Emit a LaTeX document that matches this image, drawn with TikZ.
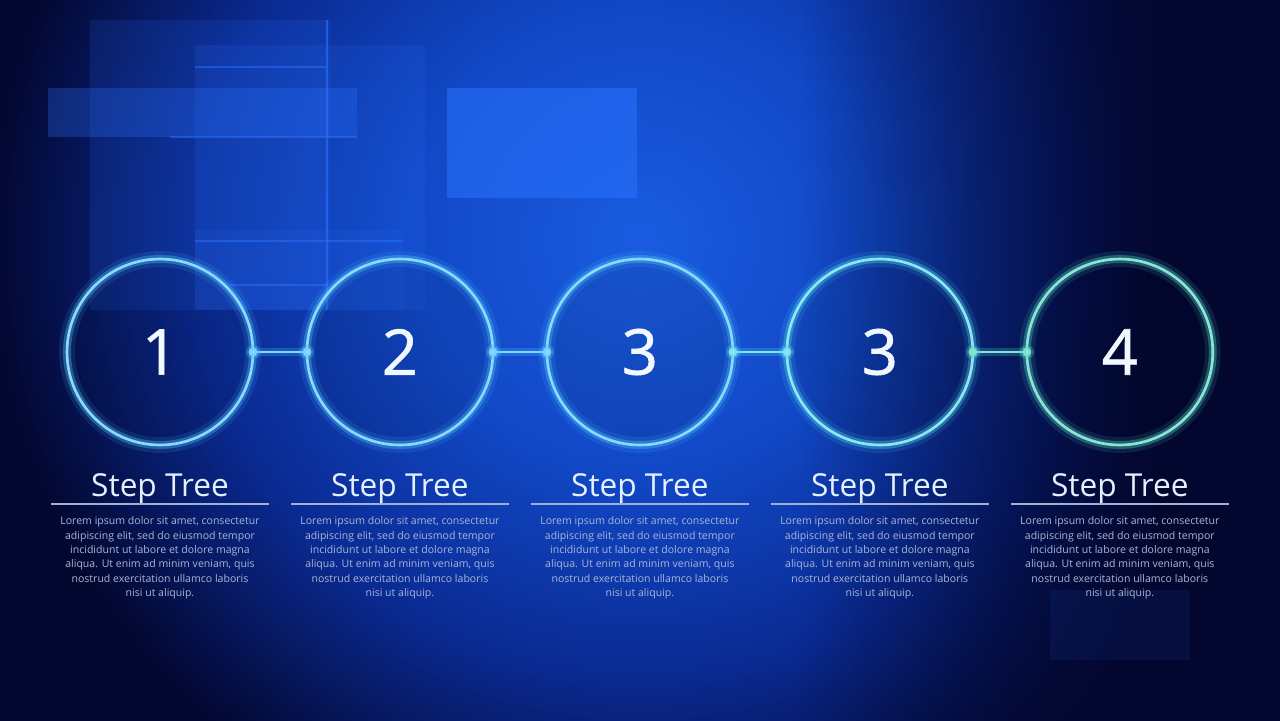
\documentclass[tikz,border=0pt]{standalone}
\usepackage{fontspec}
\setmainfont{Open Sans}
\newfontfamily\numfont[FakeBold=1]{Open Sans}
\usetikzlibrary{positioning,fadings}

\definecolor{bgnavy}{HTML}{030730}
\definecolor{glowA}{HTML}{1A5CE0}
\definecolor{glowB}{HTML}{1148C6}
\definecolor{glowC}{HTML}{0A2A92}
\definecolor{ringblue}{HTML}{4CC4FF}
\definecolor{ringcyan}{HTML}{4FD8EE}
\definecolor{ringteal}{HTML}{4FD6C0}
\definecolor{numwhite}{HTML}{F2F8FF}
\definecolor{titlecol}{HTML}{E4F0FF}
\definecolor{bodycol}{HTML}{A9B7D6}
\definecolor{rulecol}{HTML}{9FB2D6}
\definecolor{panelcol}{HTML}{2A72FF}

\pgfdeclareradialshading{bgglow}{\pgfpoint{0bp}{0bp}}{color(0bp)=(glowA); color(9bp)=(glowB); color(17bp)=(glowC); color(25bp)=(bgnavy); color(50bp)=(bgnavy)}
\tikzfading[name=fade right, left color=transparent!100, right color=transparent!0]

\newcommand\bodytext{Lorem ipsum dolor sit amet, consectetur\\ adipiscing elit, sed do eiusmod tempor\\ incididunt ut labore et dolore magna\\ aliqua. Ut enim ad minim veniam, quis\\ nostrud exercitation ullamco laboris\\ nisi ut aliquip.}

\tikzset{
  ring/.style={circle, minimum size=3.72cm, inner sep=0pt, outer sep=0pt, draw=#1!65!white, line width=1.5pt,
    text=numwhite, font=\numfont\fontsize{36}{40}\selectfont,
    preaction={fill=black, fill opacity=0.08},
    preaction={draw=#1, line width=9pt, draw opacity=0.12},
    preaction={draw=#1, line width=4.5pt, draw opacity=0.35}},
  link/.style={draw=#1!70!white, line width=1.5pt, preaction={draw=#1, line width=5pt, draw opacity=0.25}},
  dot/.style={circle, fill=#1!60!white, inner sep=0pt, minimum size=5pt, draw=#1, draw opacity=0.35, line width=3pt},
  title/.style={minimum width=4.34cm, inner sep=0pt, text height=13pt, text depth=4pt,
    font=\fontsize{18}{20}\selectfont, text=titlecol},
  body/.style={align=center, inner sep=0pt, font=\fontsize{6}{8.2}\selectfont, text=bodycol},
  rule/.style={draw=rulecol, line width=1.1pt},
  panelbox/.style={fill=panelcol, fill opacity=#1},
  panelline/.style={draw=panelcol, draw opacity=#1, line width=0.6pt}
}

\begin{document}
\begin{tikzpicture}[x=0.02cm, y=-0.02cm, node distance=4.8cm]
\useasboundingbox (0,0) rectangle (1280,720);
% background glow
\fill[bgnavy] (-10,-10) rectangle (1290,730);
\begin{scope}
\clip (-10,-10) rectangle (1290,730);
\shade[shading=bgglow] (640,240) ellipse [x radius=650, y radius=640];
\fill[bgnavy, path fading=fade right] (800,-60) rectangle (1160,780);
\fill[bgnavy] (1159,-10) rectangle (1290,730);
% panels
\fill[panelbox=0.14] (90,20) rectangle (330,310);
\fill[panelbox=0.14] (195,45) rectangle (425,310);
\fill[panelbox=0.28] (48,88) rectangle (357,137);
\fill[panelbox=0.12] (195,230) rectangle (403,310);
\fill[panelbox=0.55] (447,88) rectangle (637,198);
\fill[panelbox=0.08] (1050,590) rectangle (1190,660);
\draw[panelline=0.6] (327,20) -- (327,310);
\draw[panelline=0.5] (195,67) -- (327,67);
\draw[panelline=0.5] (170,137) -- (357,137);
\draw[panelline=0.5] (195,241) -- (403,241);
\draw[panelline=0.5] (230,285) -- (327,285);
\end{scope}

% steps
\node[ring=ringblue] (c1) at (160,352) {1};
\node[ring=ringblue, right of=c1] (c2) {2};
\node[ring=ringblue, right of=c2] (c3) {3};
\node[ring=ringcyan, right of=c3] (c4) {3};
\node[ring=ringteal, right of=c4] (c5) {4};

\draw[link=ringblue] (c1) -- (c2) node[dot=ringblue, pos=0] (d1) {} node[dot=ringblue, pos=1] (d2) {};
\draw[link=ringblue] (c2) -- (c3) node[dot=ringblue, pos=0] (d3) {} node[dot=ringblue, pos=1] (d4) {};
\draw[link=ringcyan] (c3) -- (c4) node[dot=ringcyan, pos=0] (d5) {} node[dot=ringcyan, pos=1] (d6) {};
\draw[link=ringteal] (c4) -- (c5) node[dot=ringteal, pos=0] (d7) {} node[dot=ringteal, pos=1] (d8) {};

\node[title, below of=c1, node distance=2.74cm] (t1) {Step Tree};
\node[title, below of=c2, node distance=2.74cm] (t2) {Step Tree};
\node[title, below of=c3, node distance=2.74cm] (t3) {Step Tree};
\node[title, below of=c4, node distance=2.74cm] (t4) {Step Tree};
\node[title, below of=c5, node distance=2.74cm] (t5) {Step Tree};
\draw[rule] (t1.south west) -- (t1.south east);
\draw[rule] (t2.south west) -- (t2.south east);
\draw[rule] (t3.south west) -- (t3.south east);
\draw[rule] (t4.south west) -- (t4.south east);
\draw[rule] (t5.south west) -- (t5.south east);

\node[body, below of=t1, node distance=1.38cm] (b1) {\bodytext};
\node[body, below of=t2, node distance=1.38cm] (b2) {\bodytext};
\node[body, below of=t3, node distance=1.38cm] (b3) {\bodytext};
\node[body, below of=t4, node distance=1.38cm] (b4) {\bodytext};
\node[body, below of=t5, node distance=1.38cm] (b5) {\bodytext};
\end{tikzpicture}
\end{document}
